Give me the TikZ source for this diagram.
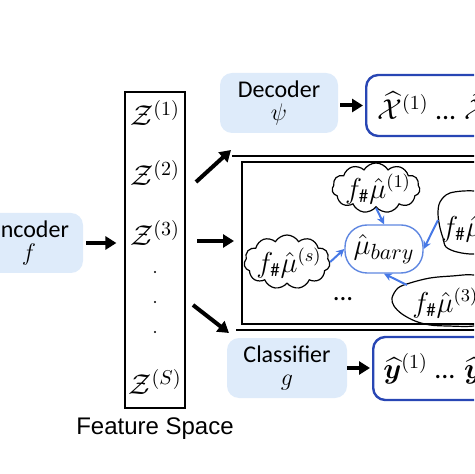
\documentclass[tikz,border=0pt]{standalone}
\usepackage{amsmath,bm}
\usepackage{fontspec}
\setmainfont{Carlito}
\newfontfamily\arialf{Liberation Sans}
\usetikzlibrary{arrows.meta,shapes.symbols}
\definecolor{lblue}{RGB}{222,235,250}
\definecolor{dblue}{RGB}{40,70,180}
\definecolor{mblue}{RGB}{95,135,225}
\definecolor{abl}{RGB}{70,120,230}
\begin{document}
\begin{tikzpicture}[x=0.5pt,y=-0.5pt,
 modbox/.style={fill=lblue, rounded corners=6pt, align=center, font=\fontsize{12}{11.5}\selectfont, inner sep=0pt},
 outbox/.style={draw=dblue, line width=1.2pt, rounded corners=6pt, inner sep=0pt},
 bigarrow/.style={line width=2pt, -{Triangle[length=5.5pt,width=6.5pt]}},
 bluearrow/.style={draw=abl, line width=1pt, -{Stealth[length=4pt,width=4pt]}},
 cloudnode/.style={cloud, draw, cloud puffs=11, cloud puff arc=120, cloud ignores aspect, inner sep=0pt, line width=0.6pt},
 mlbl/.style={font=\fontsize{14}{16}\selectfont, inner sep=0pt},
 clbl/.style={font=\fontsize{13.5}{15}\selectfont, inner sep=0pt}
]
\useasboundingbox (0,0) rectangle (474,474);
\clip (0,0) rectangle (474,474);

% encoder
\node[modbox, minimum width=54pt, minimum height=30pt] (enc) at (29,243) {Encoder\\$f$};

% feature space
\node[draw, line width=0.6pt, minimum width=30pt, minimum height=158pt, inner sep=0pt] (fs) at (155,250) {};
\node[mlbl] (z1) at (155,113) {$\mathcal{Z}^{(1)}$};
\node[mlbl] (z2) at (155,173) {$\mathcal{Z}^{(2)}$};
\node[mlbl] (z3) at (155,233) {$\mathcal{Z}^{(3)}$};
\fill (155,272) circle (1.2);
\fill (155,302) circle (1.2);
\fill (155,332) circle (1.2);
\node[mlbl] (zs) at (155,382) {$\mathcal{Z}^{(S)}$};
\node[font=\arialf\fontsize{12}{14}\selectfont, inner sep=0pt] (fsl) at (155,429) {Feature Space};

\draw[bigarrow, shorten <=1.5pt, shorten >=4pt] (enc.east) -- (enc.east -| fs.west);

% decoder / classifier
\node[modbox, minimum width=59pt, minimum height=30pt] (dec) at (279,103) {Decoder\\$\psi$};
\node[modbox, minimum width=60pt, minimum height=30pt] (cls) at (287,368) {Classifier\\$g$};

\node[outbox, anchor=west, minimum width=130pt, minimum height=30.5pt] (xb) at (365,105.5) {};
\node[mlbl, anchor=west] (xt) at (377,106) {$\widehat{\mathcal{X}}^{(1)}$ ... $\widehat{\mathcal{X}}^{(S)}$};
\node[outbox, anchor=west, minimum width=130pt, minimum height=31.5pt] (yb) at (372,368.5) {};
\node[mlbl, anchor=west] (yt) at (383,369) {$\bm{\widehat{y}}^{(1)}$ ... $\bm{\widehat{y}}^{(S)}$};

\draw[bigarrow, shorten <=1pt, shorten >=1pt] (xb.west -| dec.east) -- (xb.west);
\draw[bigarrow, shorten <=0pt, shorten >=1pt] (cls.east) -- (cls.east -| yb.west);

% middle frame
\coordinate (tl) at (232,156);
\coordinate (tr) at (520,156);
\coordinate (bl) at (236,330);
\coordinate (br) at (520,330);
\draw[line width=1pt] (tl) -- (tr);
\draw[line width=1pt] (bl) -- (br);
\draw[line width=0.8pt] (242,162) rectangle (520,324);

% arrows from feature space
\coordinate (a1s) at (196,182); \coordinate (a1e) at (231,150);
\coordinate (a2s) at (197,241); \coordinate (a2e) at (234,241);
\coordinate (a3s) at (193,305); \coordinate (a3e) at (229,333);
\draw[bigarrow] (a1s) -- (a1e);
\draw[bigarrow] (a2s) -- (a2e);
\draw[bigarrow] (a3s) -- (a3e);

% clouds
\node[cloudnode, minimum width=44pt, minimum height=25pt] (c1) at (376,188) {};
\node[clbl] (c1t) at (378,189) {$f_{\#}\hat{\mu}^{(1)}$};
\node[cloudnode, minimum width=43pt, minimum height=27pt] (cs) at (287,262) {};
\node[clbl] (cst) at (289,263) {$f_{\#}\hat{\mu}^{(s)}$};

\draw[line width=0.6pt] plot[smooth cycle, tension=0.55] coordinates {(450,193) (474,191) (496,197) (500,222) (496,250) (474,254) (457,252) (446,247) (443,238) (440,228) (438,214) (440,202)};
\coordinate (b2w) at (438,220);
\node[clbl, anchor=west] (b2t) at (441,227) {$f_{\#}\hat{\mu}^{(2)}$};

\draw[line width=0.6pt] plot[smooth cycle, tension=0.55] coordinates {(392,298) (398,288) (410,283) (430,278) (452,276) (474,275) (494,282) (500,300) (494,320) (474,326) (448,326) (430,325) (415,321) (402,314) (394,306)};
\coordinate (b3w) at (407,285);
\node[clbl, anchor=west] (b3t) at (412,303) {$f_{\#}\hat{\mu}^{(3)}$};

\node[clbl] (dots) at (343,299) {...};

% barycenter
\node[draw=mblue, line width=0.7pt, rounded corners=11pt, minimum width=39pt, minimum height=24pt, font=\fontsize{15}{17}\selectfont, inner sep=0pt] (bary) at (384,249) {$\hat{\mu}_{bary}$};

\draw[bluearrow] (c1.south) -- (bary.north);
\draw[bluearrow] (b2w) -- (bary.east);
\draw[bluearrow] (cs.east) -- (bary.west);
\draw[bluearrow] (b3w) -- (bary.south);
\end{tikzpicture}
\end{document}
